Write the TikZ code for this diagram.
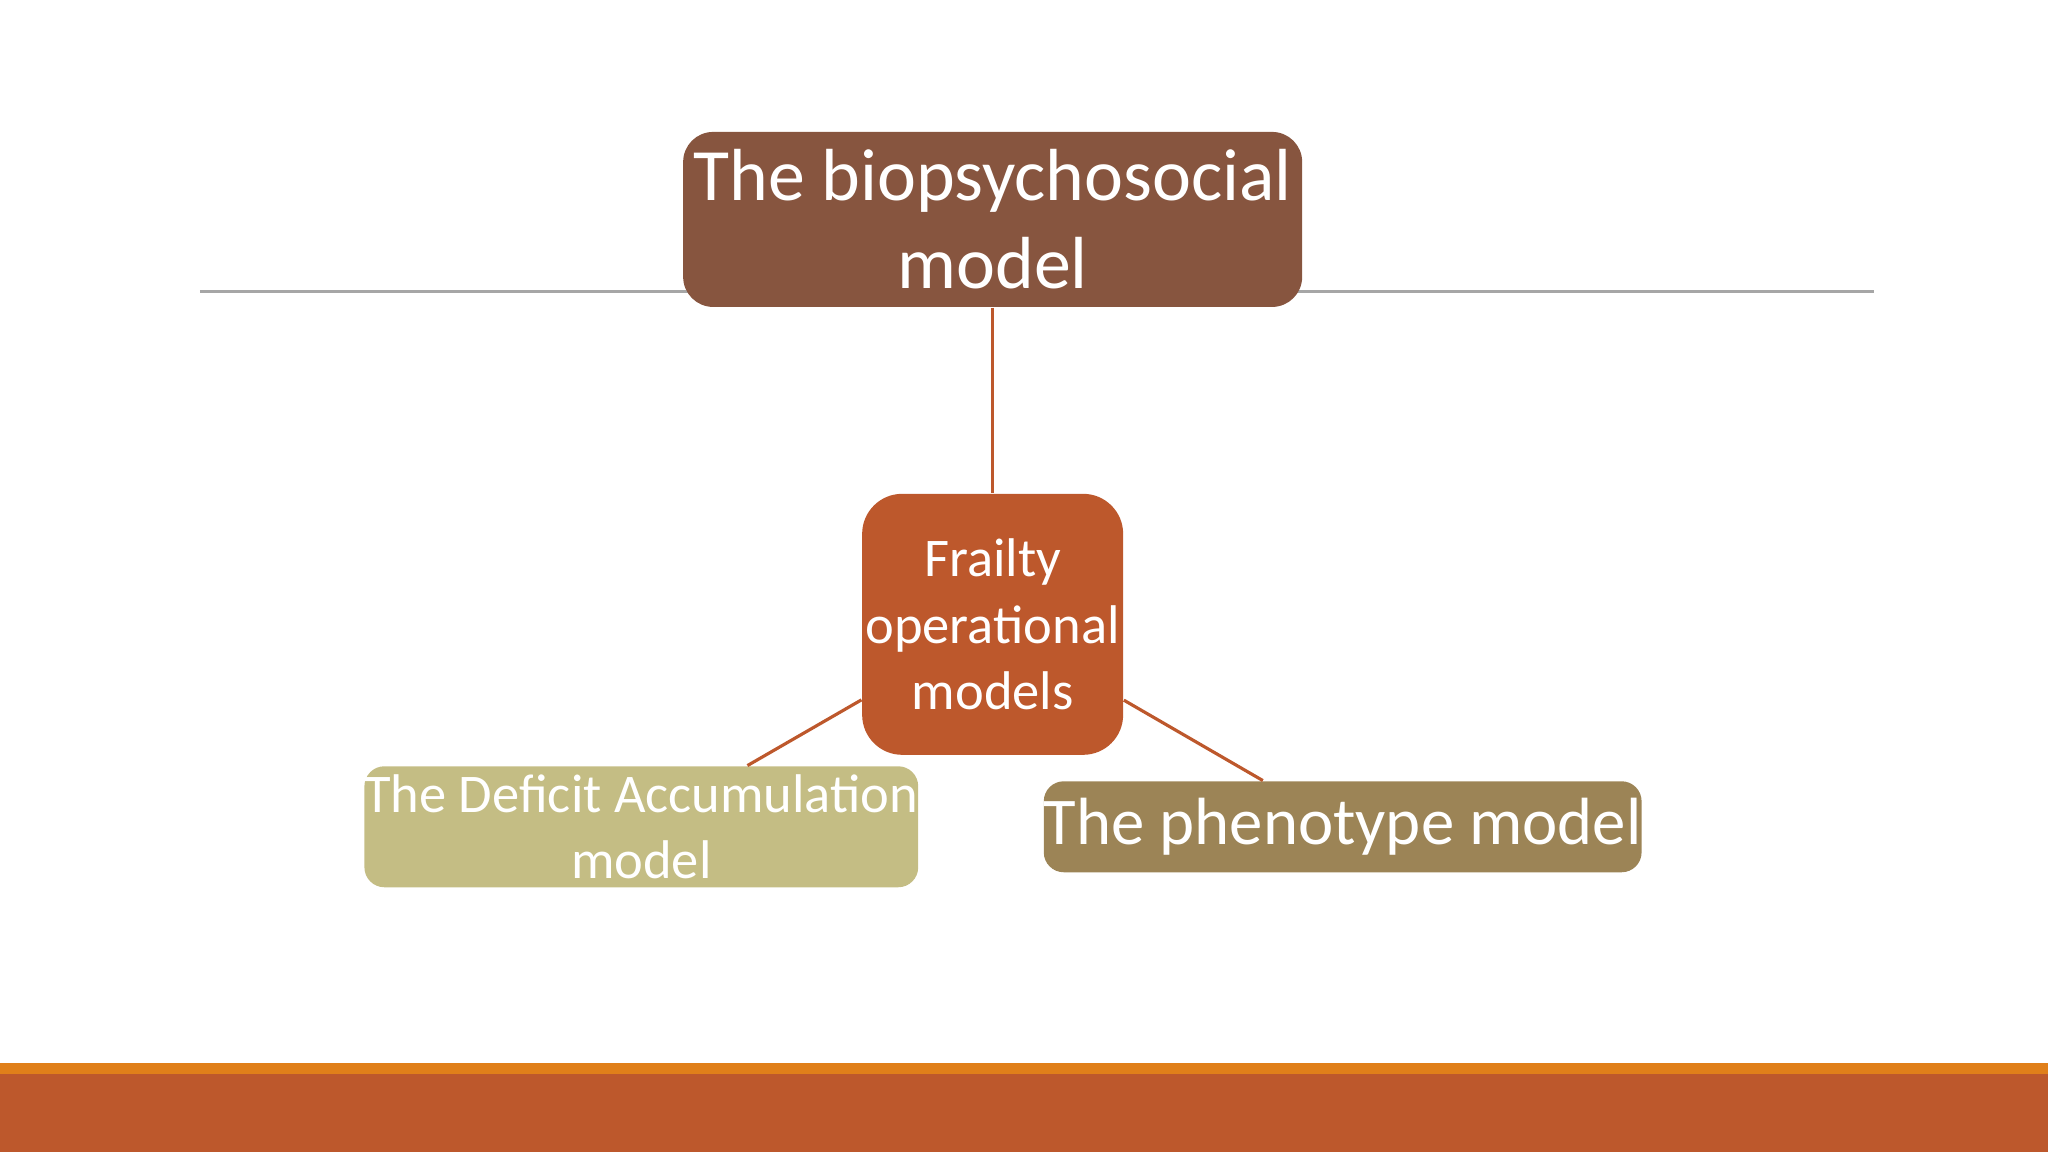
\documentclass[tikz,border=0pt]{standalone}
\usepackage{fontspec}
\setmainfont{Carlito}
\usetikzlibrary{positioning}
\definecolor{topbrown}{HTML}{87553F}
\definecolor{rust}{HTML}{BD582C}
\definecolor{khaki}{HTML}{C4BD84}
\definecolor{olive}{HTML}{9C8456}
\definecolor{amber}{HTML}{E07F1A}
\begin{document}
\begin{tikzpicture}[x=0.01306cm, y=-0.01306cm,
						box/.style = {rounded corners=3mm, text=white, align=center, inner sep=0pt},
						link/.style = {draw=rust, line width=0.9pt}
					]
\useasboundingbox (0,0) rectangle (1568,882);
\fill[amber] (0,814) rectangle (1568,822);
\fill[rust] (0,822) rectangle (1568,882);

\coordinate (gl) at (153,223);
\coordinate (gr) at (1435,223);
\draw[gray!70, line width=0.8pt] (gl) -- (gr);

\node[box, fill=topbrown, minimum width=6.19cm, minimum height=1.75cm, font=\fontsize{21}{25}\selectfont] (top) at (760,168) {The biopsychosocial\\model};
\node[box, fill=rust, rounded corners=4mm, minimum width=2.61cm, minimum height=2.61cm, font=\fontsize{15.5}{19}\selectfont] (ctr) at (760,478) {Frailty\\operational\\models};
\node[box, fill=khaki, rounded corners=2mm, minimum width=5.51cm, minimum height=1.21cm, font=\fontsize{15.5}{19}\selectfont] (left) at (491,633) {The Deficit Accumulation\\model};
\node[box, fill=olive, rounded corners=2mm, minimum width=5.03cm, minimum height=0.91cm, font=\fontsize{19}{23}\selectfont] (right) at (1028,633) {The phenotype model};

\draw[link] (top) -- (ctr);
\draw[link] (ctr) -- (left);
\draw[link] (ctr) -- (right);
\end{tikzpicture}
\end{document}
